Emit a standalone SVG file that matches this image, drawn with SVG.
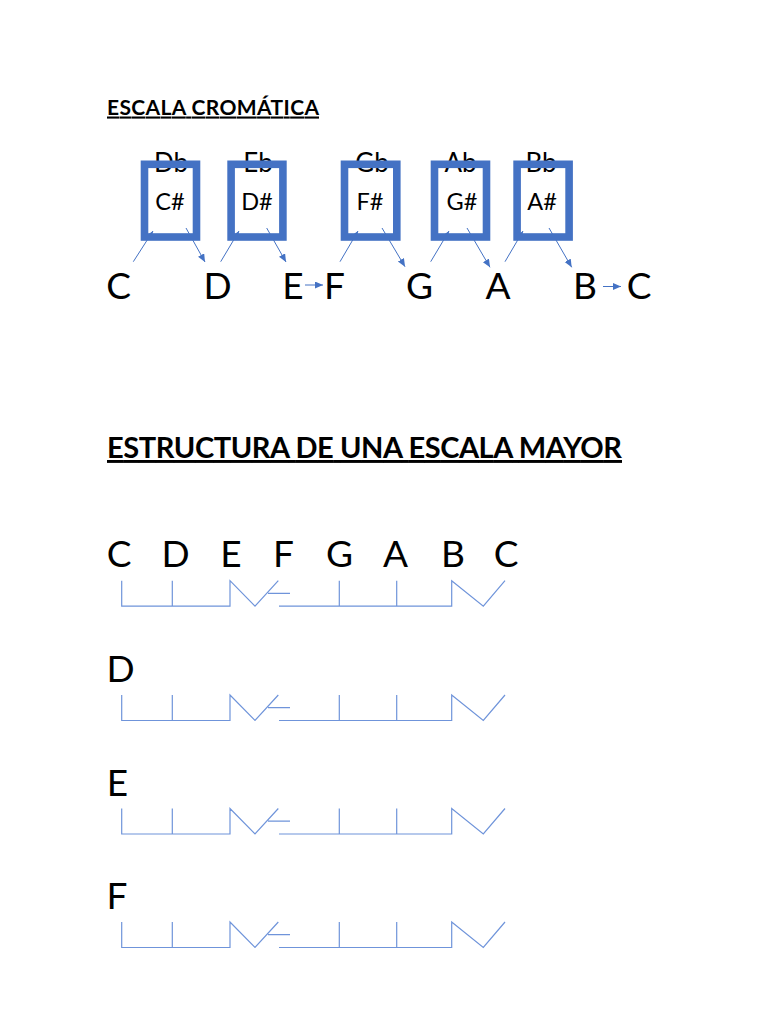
<svg xmlns="http://www.w3.org/2000/svg" xmlns:xlink="http://www.w3.org/1999/xlink" width="768" height="1024" viewBox="0 0 768 1024">
<style>
.t{font-family:Lato,"Open Sans","Liberation Sans",sans-serif;fill:#000}
.h{font-weight:bold;text-decoration:underline}
.big{font-size:37px;text-anchor:middle}
.lbl{font-size:26px;text-anchor:middle}
.sh{font-size:23.5px;text-anchor:middle}
.box{fill:none;stroke:#4472C4;stroke-width:7.6}
.arr{stroke:#4472C4;stroke-width:1;fill:none;marker-end:url(#ah)}
.scale{fill:none;stroke:#6f94da;stroke-width:1.2}
</style>
<defs>
<marker id="ah" markerUnits="userSpaceOnUse" markerWidth="9" markerHeight="8" refX="8" refY="3.5" orient="auto">
<path d="M0,0 L8,3.5 L0,7 z" fill="#4472C4"/>
</marker>
<path id="pat" class="scale" d="M121.7,0 V25.5 H230 V0 L255,25.5 L278.3,0 M172.3,0 V25.5 M268,12.6 H290 M279,25.5 H451.7 V0 L483.3,25.5 L505,0 M339.3,0 V25.5 M396.7,0 V25.5"/>
</defs>
<rect width="768" height="1024" fill="#fff"/>

<g id="title1"><text class="t h" x="107" y="114.5" font-size="21" textLength="212">ESCALA CROMÁTICA</text></g>

<g id="connectors">
<line class="arr" x1="133.3" y1="261.7" x2="153" y2="231"/>
<line class="arr" x1="186" y1="228" x2="205" y2="262"/>
<line class="arr" x1="220.7" y1="261.7" x2="239" y2="231"/>
<line class="arr" x1="266.7" y1="228" x2="286" y2="262"/>
<line class="arr" x1="305" y1="285" x2="323" y2="285"/>
<line class="arr" x1="340" y1="261.7" x2="358" y2="231"/>
<line class="arr" x1="382" y1="228" x2="405" y2="266.7"/>
<line class="arr" x1="430.7" y1="261.7" x2="449" y2="231"/>
<line class="arr" x1="467" y1="228" x2="490" y2="267.3"/>
<line class="arr" x1="505" y1="261.7" x2="523" y2="231"/>
<line class="arr" x1="549" y1="228" x2="571.7" y2="267.3"/>
<line class="arr" x1="603" y1="286.5" x2="621" y2="286.5"/>
</g>

<g id="chromatic-naturals">
<text id="n-C1" class="t big" x="118.5" y="299">C</text>
<text id="n-D" class="t big" x="217.5" y="299">D</text>
<text id="n-E" class="t big" x="293" y="299">E</text>
<text id="n-F" class="t big" x="334.5" y="299">F</text>
<text id="n-G" class="t big" x="419.5" y="299">G</text>
<text id="n-A" class="t big" x="498" y="299">A</text>
<text id="n-B" class="t big" x="585" y="299">B</text>
<text id="n-C2" class="t big" x="639" y="299">C</text>
</g>

<g id="box-Cs">
<text class="t lbl" x="171" y="172">Db</text>
<rect class="box" x="144.5" y="164.3" width="52" height="72.7"/>
<text class="t sh" x="170" y="209.5">C#</text>
</g>
<g id="box-Ds">
<text class="t lbl" x="258" y="172">Eb</text>
<rect class="box" x="231.1" y="164.3" width="51.8" height="72.7"/>
<text class="t sh" x="257" y="209.5">D#</text>
</g>
<g id="box-Fs">
<text class="t lbl" x="372" y="172">Gb</text>
<rect class="box" x="344.5" y="164.3" width="52.3" height="72.7"/>
<text class="t sh" x="370" y="209.5">F#</text>
</g>
<g id="box-Gs">
<text class="t lbl" x="460.5" y="172">Ab</text>
<rect class="box" x="434.5" y="164.3" width="52" height="72.7"/>
<text class="t sh" x="462" y="209.5">G#</text>
</g>
<g id="box-As">
<text class="t lbl" x="541" y="172">Bb</text>
<rect class="box" x="517.1" y="164.3" width="52" height="72.7"/>
<text class="t sh" x="542" y="209.5">A#</text>
</g>

<g id="title2"><text class="t h" x="107" y="458" font-size="29" textLength="515">ESTRUCTURA DE UNA ESCALA MAYOR</text></g>

<g id="scale-C">
<text class="t big" x="119" y="566.7">C</text>
<text class="t big" x="175.5" y="566.7">D</text>
<text class="t big" x="231" y="566.7">E</text>
<text class="t big" x="283.5" y="566.7">F</text>
<text class="t big" x="339.5" y="566.7">G</text>
<text class="t big" x="395.5" y="566.7">A</text>
<text class="t big" x="453" y="566.7">B</text>
<text class="t big" x="506" y="566.7">C</text>
<use xlink:href="#pat" transform="translate(0,580.7)"/>
</g>
<g id="scale-D">
<text class="t big" x="120.5" y="681.7">D</text>
<use xlink:href="#pat" transform="translate(0,695)"/>
</g>
<g id="scale-E">
<text class="t big" x="117.5" y="796">E</text>
<use xlink:href="#pat" transform="translate(0,808.5)"/>
</g>
<g id="scale-F">
<text class="t big" x="117" y="909.3">F</text>
<use xlink:href="#pat" transform="translate(0,922)"/>
</g>
</svg>
